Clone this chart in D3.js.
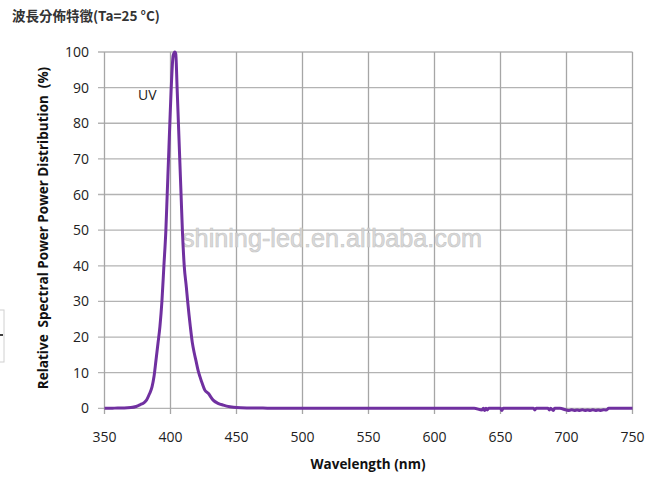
<!DOCTYPE html>
<html><head><meta charset="utf-8">
<script src="https://cdn.jsdelivr.net/npm/d3@7"></script>
<style>
html,body{margin:0;padding:0;background:#fff;}
svg{display:block;}
</style></head>
<body>
<svg id="chart" width="659" height="477"></svg>
<script>
const titleText = "波長分佈特徵(Ta=25 °C)";
const xTicks = [350,400,450,500,550,600,650,700,750];
const yTicks = [0,10,20,30,40,50,60,70,80,90,100];
const wavelengths = [350,355,360,365,370,374,377,380,382,384,386,387.5,389,390.5,392,393.5,395,396.5,397.5,398.5,399.5,400.5,402,403.3,404,405,406,407,408,409,410.4,412,413,415,416.5,418,419.2,421,422.3,424,426,428.6,432.3,436,440,445,450,460,470,480,500,520,550,580,600,620,630,636,637,638,639,640,641,642,645,650,651,652,660,670,675,676,677,680,686,687,688,690,691,692,695,700,702,704,706,708,710,712,714,716,718,720,722,724,726,728,730,732,735,738,740,745,750];
const values = [0,0,0.1,0.1,0.2,0.5,1.0,1.6,2.4,4.0,6.0,8.9,13.5,18.2,23,30,40,50,60,70,80,89.5,99,100,99.4,90,80,70,60,50,40,34,30,23,18.5,15.5,13.5,10.5,8.9,7,5.1,4.2,2.3,1.4,0.9,0.45,0.2,0.1,0.05,0,0,0,0,0,0,0,0,-0.5,0,-0.6,0,-0.5,0,0,0,0,-0.6,0,0,0,0,-0.5,0,0,0,-0.5,0,-0.6,0,0,0,-0.5,-0.6,-0.4,-0.6,-0.5,-0.6,-0.4,-0.6,-0.5,-0.6,-0.4,-0.6,-0.5,-0.6,-0.4,-0.5,0,0,0,0,0,0];
const data = wavelengths.map((w,i)=>({w, v: values[i]}));

const svg = d3.select("#chart");
const x = d3.scaleLinear().domain([350,750]).range([104.5,632.5]);
const y = d3.scaleLinear().domain([0,100]).range([408.3,52]);
const font = "'Open Sans', 'Liberation Sans', sans-serif";

// title
svg.append("text").attr("x",12).attr("y",21)
  .attr("font-family","'Noto Sans CJK TC','Noto Sans CJK SC',sans-serif")
  .attr("font-weight","bold").attr("font-size",13.5).attr("fill","#333")
  .text(titleText);

// stray box at left edge
svg.append("rect").attr("x",-1).attr("y",310).attr("width",5).attr("height",52)
  .attr("fill","none").attr("stroke","#d0d0d0");
svg.append("line").attr("x1",0).attr("x2",3).attr("y1",335).attr("y2",335)
  .attr("stroke","#000").attr("stroke-width",1.5);

// horizontal gridlines
svg.append("g").selectAll("line").data(yTicks).join("line")
  .attr("x1",98).attr("x2",x(750))
  .attr("y1",d=>y(d)).attr("y2",d=>y(d))
  .attr("stroke","#b3b3b3").attr("stroke-width",1.3);
// vertical gridlines
svg.append("g").selectAll("line").data(xTicks).join("line")
  .attr("x1",d=>x(d)).attr("x2",d=>x(d))
  .attr("y1",y(100)).attr("y2",414)
  .attr("stroke","#a6a6a6").attr("stroke-width",1.3);

// y tick labels
svg.append("g").selectAll("text").data(yTicks).join("text")
  .attr("x",89).attr("y",d=>y(d)).attr("dy","0.36em")
  .attr("text-anchor","end").attr("font-family",font).attr("font-size",14)
  .attr("fill","#222").text(d=>d);
// x tick labels
svg.append("g").selectAll("text").data(xTicks).join("text")
  .attr("x",d=>x(d)).attr("y",442)
  .attr("text-anchor","middle").attr("font-family",font).attr("font-size",14)
  .attr("fill","#222").text(d=>d);

// axis titles
svg.append("text").attr("x",368).attr("y",469).attr("text-anchor","middle")
  .attr("font-family",font).attr("font-weight","bold").attr("font-size",13.5)
  .attr("fill","#111").text("Wavelength (nm)");
svg.append("text").attr("transform","translate(48,228) rotate(-90)")
  .attr("text-anchor","middle").attr("font-family",font).attr("font-weight","bold")
  .attr("font-size",13.5).attr("fill","#111").attr("xml:space","preserve")
  .style("white-space","pre")
  .text("Relative  Spectral Power Power Distribution  (%)");

// watermark
svg.append("text").attr("x",182).attr("y",247)
  .attr("font-family","'Liberation Sans', Arial, sans-serif").attr("font-size",26)
  .attr("fill","#d4d4d4").attr("fill-opacity",0.85).attr("stroke","#c4c4c4").attr("stroke-width",0.6)
  .attr("textLength",300).attr("lengthAdjust","spacingAndGlyphs")
  .text("shining-led.en.alibaba.com");

// curve
const line = d3.line().x(d=>x(d.w)).y(d=>y(d.v)).curve(d3.curveMonotoneX);
svg.append("path").datum(data).attr("d",line)
  .attr("fill","none").attr("stroke","#7030a0").attr("stroke-width",3)
  .attr("stroke-linejoin","round");

// UV label
svg.append("text").attr("x",138).attr("y",100)
  .attr("font-family",font).attr("font-size",14).attr("fill","#222").text("UV");
</script>
</body></html>
